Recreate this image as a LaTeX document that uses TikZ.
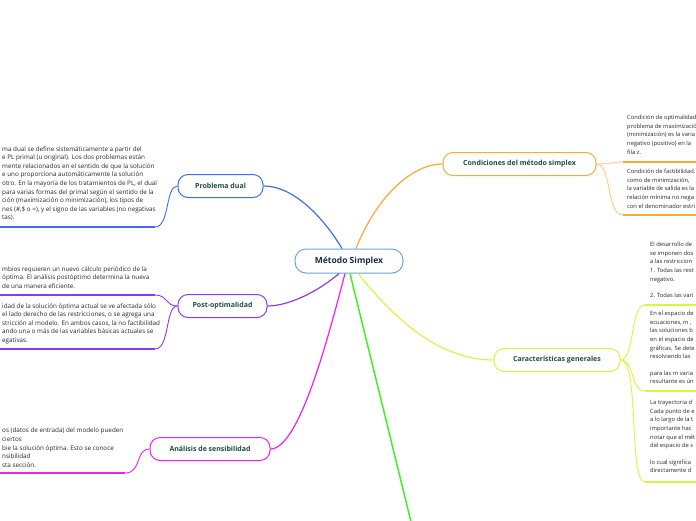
\documentclass[tikz,border=0pt]{standalone}
\usepackage{fontspec}
\setmainfont{Open Sans}
\definecolor{cblue}{HTML}{3F6EF0}
\definecolor{corange}{HTML}{FFA733}
\definecolor{cyg}{HTML}{D8F542}
\definecolor{cpurple}{HTML}{8A3CF5}
\definecolor{cmag}{HTML}{EE22EE}
\definecolor{cgreen}{HTML}{44EE22}
\definecolor{ctitle}{HTML}{1E4D3C}
\definecolor{cnavy}{HTML}{1A2A4F}
\definecolor{ccenter}{HTML}{6AA6DD}
\begin{document}
\begin{tikzpicture}[x=1pt,y=-1pt,
  topic/.style={draw,line width=1pt,rounded corners=10pt,fill=white,minimum height=23pt,inner xsep=8pt,font=\fontsize{7}{8}\selectfont\bfseries,text=ctitle},
  txt/.style={anchor=north west,align=left,inner sep=0pt,font=\fontsize{5.8}{8.6}\selectfont,text=black!85},
  ltxt/.style={txt,font=\fontsize{6.3}{8.6}\selectfont},
  ul/.style={line width=1.6pt},
  cn/.style={line width=0.9pt}]
\useasboundingbox (0,0) rectangle (696,520);
\clip (0,0) rectangle (696,520);
% center
\node[draw=ccenter,line width=1pt,rounded corners=11pt,fill=white,minimum width=108pt,minimum height=24pt,font=\fontsize{8.5}{10}\selectfont\bfseries,text=cnavy] (c) at (349,261) {Método Simplex};
% topics
\node[topic,draw=corange,minimum width=153pt] (cond) at (519.5,164) {Condiciones del método simplex};
\node[topic,draw=cyg,minimum width=126pt] (car) at (557,360) {Características generales};
\node[topic,draw=cblue,minimum width=85pt] (dual) at (220.5,186) {Problema dual};
\node[topic,draw=cpurple,minimum width=89pt] (post) at (222.5,306) {Post-optimalidad};
\node[topic,draw=cmag,minimum width=120pt] (sens) at (210,449) {Análisis de sensibilidad};
% main connectors
\draw[corange,cn,line width=1.2pt] ([xshift=7pt]c.north) .. controls (375,200) and (410,164) .. (cond.west);
\draw[cyg,cn,line width=1.2pt] ([xshift=9pt]c.south) .. controls (395,320) and (440,360) .. (car.west);
\draw[cblue,cn,line width=1.2pt] ([xshift=-7pt]c.north) .. controls (325,220) and (295,186) .. (dual.east);
\draw[cpurple,cn,line width=1.2pt] ([xshift=-10pt]c.south) .. controls (320,290) and (290,306) .. (post.east);
\draw[cmag,cn,line width=1.2pt] ([xshift=-4pt]c.south) .. controls (330,330) and (300,449) .. (sens.east);
\coordinate (gend) at (413,530);
\draw[cgreen,line width=1.5pt] ([xshift=1pt]c.south) -- (gend);
% Problema dual text
\node[ltxt] (t1) at (2,146) {ma dual se define sistemáticamente a partir del\\e PL primal (u original). Los dos problemas están\\mente relacionados en el sentido de que la solución\\e uno proporciona automáticamente la solución\\otro. En la mayoría de los tratamientos de PL, el dual\\para varias formas del primal según el sentido de la\\ción (maximización o minimización), los tipos de\\nes (\#,\$ o =), y el signo de las variables (no negativas\\tas).};
\coordinate (u1a) at (0,227); \coordinate (u1b) at (155,227);
\draw[cblue,ul] (u1a) -- (u1b);
\draw[cblue,cn] (u1b) .. controls (170,227) and (165,186) .. (dual.west);
% Post text
\node[ltxt] (t2) at (2,266) {mbios requieren un nuevo cálculo periódico de la\\óptima. El análisis postóptimo determina la nueva\\de una manera eficiente.};
\coordinate (u2a) at (0,295); \coordinate (u2b) at (155,295);
\draw[cpurple,ul] (u2a) -- (u2b);
\draw[cpurple,cn] (u2b) .. controls (168,295) and (165,306) .. (post.west);
\node[ltxt] (t3) at (2,303) {idad de la solución óptima actual se ve afectada sólo\\el lado derecho de las restricciones, o se agrega una\\stricción al modelo. En ambos casos, la no factibilidad\\ando una o más de las variables básicas actuales se\\egativas.};
\coordinate (u3a) at (0,349); \coordinate (u3b) at (155,349);
\draw[cpurple,ul] (u3a) -- (u3b);
\draw[cpurple,cn] (u3b) .. controls (170,349) and (165,306) .. (post.west);
% Sensibilidad text
\node[ltxt] (t4) at (2,428) {os (datos de entrada) del modelo pueden\\ciertos\\bie la solución óptima. Esto se conoce\\nsibilidad\\sta sección.};
\coordinate (u4a) at (0,473); \coordinate (u4b) at (125,473);
\draw[cmag,ul] (u4a) -- (u4b);
\draw[cmag,cn] (u4b) .. controls (142,473) and (135,449) .. (sens.west);
% Condiciones text
\node[txt] (t5) at (627,115) {Condición de optimalidad\\problema de maximizació\\(minimización) es la varia\\negativo (positivo) en la\\fila z.};
\coordinate (u5a) at (623,162); \coordinate (u5b) at (700,162);
\draw[corange,ul] (u5a) -- (u5b);
\draw[corange!60,cn] (cond.east) .. controls (612,164) and (612,162) .. (u5a);
\node[txt] (t6) at (627,169) {Condición de factibilidad.\\como de minimización,\\la variable de salida es la\\relación mínima no nega\\con el denominador estri};
\coordinate (u6a) at (623,215); \coordinate (u6b) at (700,215);
\draw[corange,ul] (u6a) -- (u6b);
\draw[corange!60,cn] (cond.east) .. controls (612,164) and (606,215) .. (u6a);
% Caracteristicas text
\node[txt] (t7) at (650,242) {El desarrollo de\\se imponen dos\\a las restriccion\\1. Todas las rest\\negativo.\\[8pt]2. Todas las vari};
\coordinate (u7a) at (645,305); \coordinate (u7b) at (700,305);
\draw[cyg,ul] (u7a) -- (u7b);
\draw[cyg,cn] (car.east) .. controls (635,360) and (630,305) .. (u7a);
\node[txt] (t8) at (650,311) {En el espacio de\\ecuaciones, m ,\\las soluciones b\\en el espacio de\\gráficas. Se dete\\resolviendo las \\[8pt]para las m varia\\resultante es ún};
\coordinate (u8a) at (645,391); \coordinate (u8b) at (700,391);
\draw[cyg,ul] (u8a) -- (u8b);
\draw[cyg,cn] (car.east) .. controls (635,360) and (630,391) .. (u8a);
\node[txt] (t9) at (650,400) {La trayectoria d\\Cada punto de e\\a lo largo de la t\\importante hac\\notar que el mét\\del espacio de s\\[8pt]lo cual significa\\directamente d};
\coordinate (u9a) at (645,482); \coordinate (u9b) at (700,482);
\draw[cyg,ul] (u9a) -- (u9b);
\draw[cyg,cn] (car.east) .. controls (640,360) and (628,482) .. (u9a);
\end{tikzpicture}
\end{document}
